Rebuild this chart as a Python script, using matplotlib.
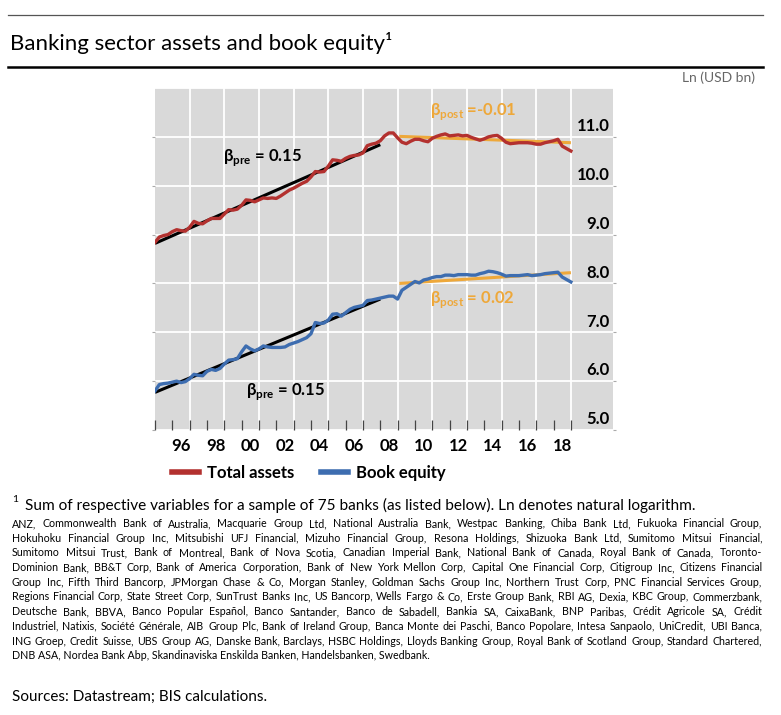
import numpy as np
import matplotlib
matplotlib.use("Agg")
import matplotlib.pyplot as plt
from matplotlib.lines import Line2D

FAM = ["Lato", "DejaVu Sans"]
plt.rcParams["font.family"] = FAM

# ---- data: ln(USD bn), quarterly 1995Q1 .. 2019Q1 ----
quarters = np.arange(1995.0, 2019.01, 0.25)
total_assets = [
    8.84, 8.95, 8.98, 9.00,   9.06, 9.10, 9.08, 9.07,   9.15, 9.27, 9.23, 9.22,
    9.28, 9.33, 9.33, 9.33,   9.42, 9.51, 9.50, 9.52,   9.60, 9.71, 9.70, 9.67,
    9.71, 9.75, 9.74, 9.75,   9.74, 9.79, 9.85, 9.91,   9.95, 10.00, 10.05, 10.09,
    10.18, 10.29, 10.28, 10.29, 10.40, 10.53, 10.52, 10.50, 10.56, 10.60, 10.62, 10.63,
    10.67, 10.82, 10.85, 10.87, 10.92, 11.02, 11.08, 11.08, 10.98, 10.89, 10.86, 10.91,
    10.95, 10.95, 10.92, 10.90, 10.97, 11.01, 11.04, 11.06, 11.02, 11.03, 11.04, 11.02,
    11.03, 10.99, 10.96, 10.93, 10.96, 11.00, 11.02, 11.03, 10.97, 10.89, 10.86, 10.87,
    10.88, 10.88, 10.88, 10.87, 10.85, 10.85, 10.88, 10.90, 10.92, 10.95, 10.81, 10.76,
    10.71]
book_equity = [
    5.80, 5.93, 5.95, 5.96,   5.98, 6.00, 5.97, 5.99,   6.05, 6.14, 6.12, 6.11,
    6.20, 6.24, 6.22, 6.26,   6.35, 6.43, 6.44, 6.46,   6.60, 6.72, 6.66, 6.62,
    6.66, 6.72, 6.70, 6.69,   6.69, 6.69, 6.70, 6.75,   6.78, 6.81, 6.85, 6.89,
    6.97, 7.20, 7.18, 7.19,   7.25, 7.37, 7.38, 7.33,   7.40, 7.47, 7.51, 7.53,
    7.55, 7.65, 7.66, 7.68,   7.70, 7.72, 7.74, 7.74,   7.68, 7.86, 7.92, 7.98,
    8.04, 8.01, 8.07, 8.09,   8.12, 8.14, 8.14, 8.17,   8.17, 8.16, 8.18, 8.18,
    8.18, 8.17, 8.17, 8.20,   8.22, 8.25, 8.24, 8.22,   8.19, 8.15, 8.16, 8.16,
    8.16, 8.17, 8.18, 8.16,   8.17, 8.18, 8.20, 8.21,   8.22, 8.23, 8.13, 8.08,
    8.03]

# fitted trends (pre-crisis / post-crisis)
pre_years = [1995.0, 2008.0]
assets_pre_fit = [8.82, 10.84]
equity_pre_fit = [5.77, 7.68]
post_years = [2009.1, 2019.0]
assets_post_fit = [11.01, 10.88]
equity_post_fit = [8.00, 8.22]

year_ticks = list(range(1995, 2020))
year_labels = ["96", "98", "00", "02", "04", "06", "08", "10", "12", "14", "16", "18"]
label_pos = [1996.5 + 2 * i for i in range(len(year_labels))]
grid_years = list(range(1997, 2020, 2))
y_ticks = [5, 6, 7, 8, 9, 10, 11]
y_labels = ["5.0", "6.0", "7.0", "8.0", "9.0", "10.0", "11.0"]

RED, BLUE, ORANGE, BG = "#b3312f", "#3d6db0", "#eea83a", "#d9d9d9"

fig = plt.figure(figsize=(7.81, 7.15), dpi=100)
W, H = 781, 715

def fx(px): return px / W
def fy(py): return 1 - py / H

# ---- header ----
fig.add_artist(Line2D([fx(8), fx(763)], [fy(15), fy(15)], color="#555555", lw=0.9))
fig.text(fx(10), fy(43), "Banking sector assets and book equity\u00b9", fontsize=16, va="center")
fig.add_artist(Line2D([fx(8), fx(763)], [fy(67), fy(67)], color="black", lw=1.8))
fig.text(fx(755), fy(78), "Ln (USD bn)", fontsize=10, color="#666666", ha="right", va="center")

# ---- main panel ----
ax = fig.add_axes([fx(155), fy(430), fx(613) - fx(155), fy(88) - fy(430)])
ax.set_facecolor(BG)
ax.set_xlim(1995.0, 2021.43)
ax.set_ylim(5.0, 12.0)
for s in ax.spines.values():
    s.set_visible(False)

for v in range(5, 13):
    ax.axhline(v, color="white", lw=1.3, zorder=1)
ax.vlines(grid_years, 5.0, 12.0, color="white", lw=1.3, zorder=1)

ax.plot(pre_years, assets_pre_fit, color="black", lw=2.2, zorder=2, solid_capstyle="butt")
ax.plot(pre_years, equity_pre_fit, color="black", lw=2.2, zorder=2, solid_capstyle="butt")
ax.plot(post_years, assets_post_fit, color=ORANGE, lw=2.2, zorder=2, solid_capstyle="butt")
ax.plot(post_years, equity_post_fit, color=ORANGE, lw=2.2, zorder=2, solid_capstyle="butt")
ax.plot(quarters, total_assets, color=RED, lw=2.4, zorder=3)
ax.plot(quarters, book_equity, color=BLUE, lw=2.4, zorder=3)

ax.set_xticks(year_ticks)
ax.set_xticklabels([])
ax.set_xticks(label_pos, minor=True)
ax.set_xticklabels(year_labels, minor=True, fontsize=12, fontweight="bold")
ax.tick_params(axis="x", which="major", direction="in", length=7.5, width=0.9, color="#444444")
ax.tick_params(axis="x", which="minor", length=0, pad=6)

ax.set_yticks(y_ticks)
ax.tick_params(axis="y", left=True, right=True, labelleft=False, length=2, color="#aaaaaa")
for v, lab in zip(y_ticks, y_labels):
    ax.annotate(lab, xy=(0.993, v), xycoords=ax.get_yaxis_transform(), xytext=(0, 2),
                textcoords="offset points", ha="right", va="bottom",
                fontsize=12, fontweight="bold")

def beta(x, y, sub, rest, color):
    ax.text(x, y, "\u03b2$_{\\mathregular{" + sub + "}}$" + rest, color=color,
            fontsize=12, fontweight="bold", va="center", ha="left", zorder=4)

beta(1998.92, 10.57, "pre", " = 0.15", "black")
beta(2000.25, 5.78, "pre", " = 0.15", "black")
beta(2010.87, 11.51, "post", " =-0.01", ORANGE)
beta(2010.87, 7.66, "post", " = 0.02", ORANGE)

handles = [Line2D([], [], color=RED, lw=4), Line2D([], [], color=BLUE, lw=4)]
fig.legend(handles, ["Total assets", "Book equity"], loc="center left",
           bbox_to_anchor=(fx(172), fy(473)), ncol=2, frameon=False, borderpad=0,
           borderaxespad=0, handlelength=1.6, handletextpad=0.5, columnspacing=1.6,
           prop={"size": 12, "weight": "bold"})

# ---- notes ----
fig.text(fx(12), fy(500), "1", fontsize=7.5, va="center")
fig.text(fx(25), fy(505), "Sum of respective variables for a sample of 75 banks (as listed below). "
         "Ln denotes natural logarithm.", fontsize=11.1, va="center")

bank_lines = [
    "ANZ, Commonwealth Bank of Australia, Macquarie Group Ltd, National Australia Bank, Westpac Banking, Chiba Bank Ltd, Fukuoka Financial Group,",
    "Hokuhoku Financial Group Inc, Mitsubishi UFJ Financial, Mizuho Financial Group, Resona Holdings, Shizuoka Bank Ltd, Sumitomo Mitsui Financial,",
    "Sumitomo Mitsui Trust, Bank of Montreal, Bank of Nova Scotia, Canadian Imperial Bank, National Bank of Canada, Royal Bank of Canada, Toronto-",
    "Dominion Bank, BB&T Corp, Bank of America Corporation, Bank of New York Mellon Corp, Capital One Financial Corp, Citigroup Inc, Citizens Financial",
    "Group Inc, Fifth Third Bancorp, JPMorgan Chase & Co, Morgan Stanley, Goldman Sachs Group Inc, Northern Trust Corp, PNC Financial Services Group,",
    "Regions Financial Corp, State Street Corp, SunTrust Banks Inc, US Bancorp, Wells Fargo & Co, Erste Group Bank, RBI AG, Dexia, KBC Group, Commerzbank,",
    "Deutsche Bank, BBVA, Banco Popular Espa\u00f1ol, Banco Santander, Banco de Sabadell, Bankia SA, CaixaBank, BNP Paribas, Cr\u00e9dit Agricole SA, Cr\u00e9dit",
    "Industriel, Natixis, Soci\u00e9t\u00e9 G\u00e9n\u00e9rale, AIB Group Plc, Bank of Ireland Group, Banca Monte dei Paschi, Banco Popolare, Intesa Sanpaolo, UniCredit, UBI Banca,",
    "ING Groep, Credit Suisse, UBS Group AG, Danske Bank, Barclays, HSBC Holdings, Lloyds Banking Group, Royal Bank of Scotland Group, Standard Chartered,",
    "DNB ASA, Nordea Bank Abp, Skandinaviska Enskilda Banken, Handelsbanken, Swedbank.",
]

renderer = fig.canvas.get_renderer()
x0, x1 = 12, 762

# largest size (<= 8pt) at which the longest line still fits the text block
bank_size = 8.0
probes = [fig.text(0, 0, l, fontsize=bank_size) for l in bank_lines]
longest = max(p.get_window_extent(renderer).width for p in probes)
for p in probes:
    p.remove()
if longest > (x1 - x0) * 0.985:
    bank_size *= (x1 - x0) * 0.985 / longest

# justified lines, words share one baseline
for i, line in enumerate(bank_lines):
    y = fy(527 + i * 14.7)
    if i == len(bank_lines) - 1:
        fig.text(fx(x0), y, line, fontsize=bank_size, va="baseline")
        continue
    words = line.split(" ")
    texts = [fig.text(0, y, w, fontsize=bank_size, va="baseline") for w in words]
    widths = [t.get_window_extent(renderer).width for t in texts]
    gap = (x1 - x0 - sum(widths)) / (len(words) - 1)
    x = x0
    for t, w in zip(texts, widths):
        t.set_x(fx(x))
        x += w + gap

fig.text(fx(12), fy(697), "Sources: Datastream; BIS calculations.", fontsize=11, va="center")

fig.savefig("out.png", dpi=100)
